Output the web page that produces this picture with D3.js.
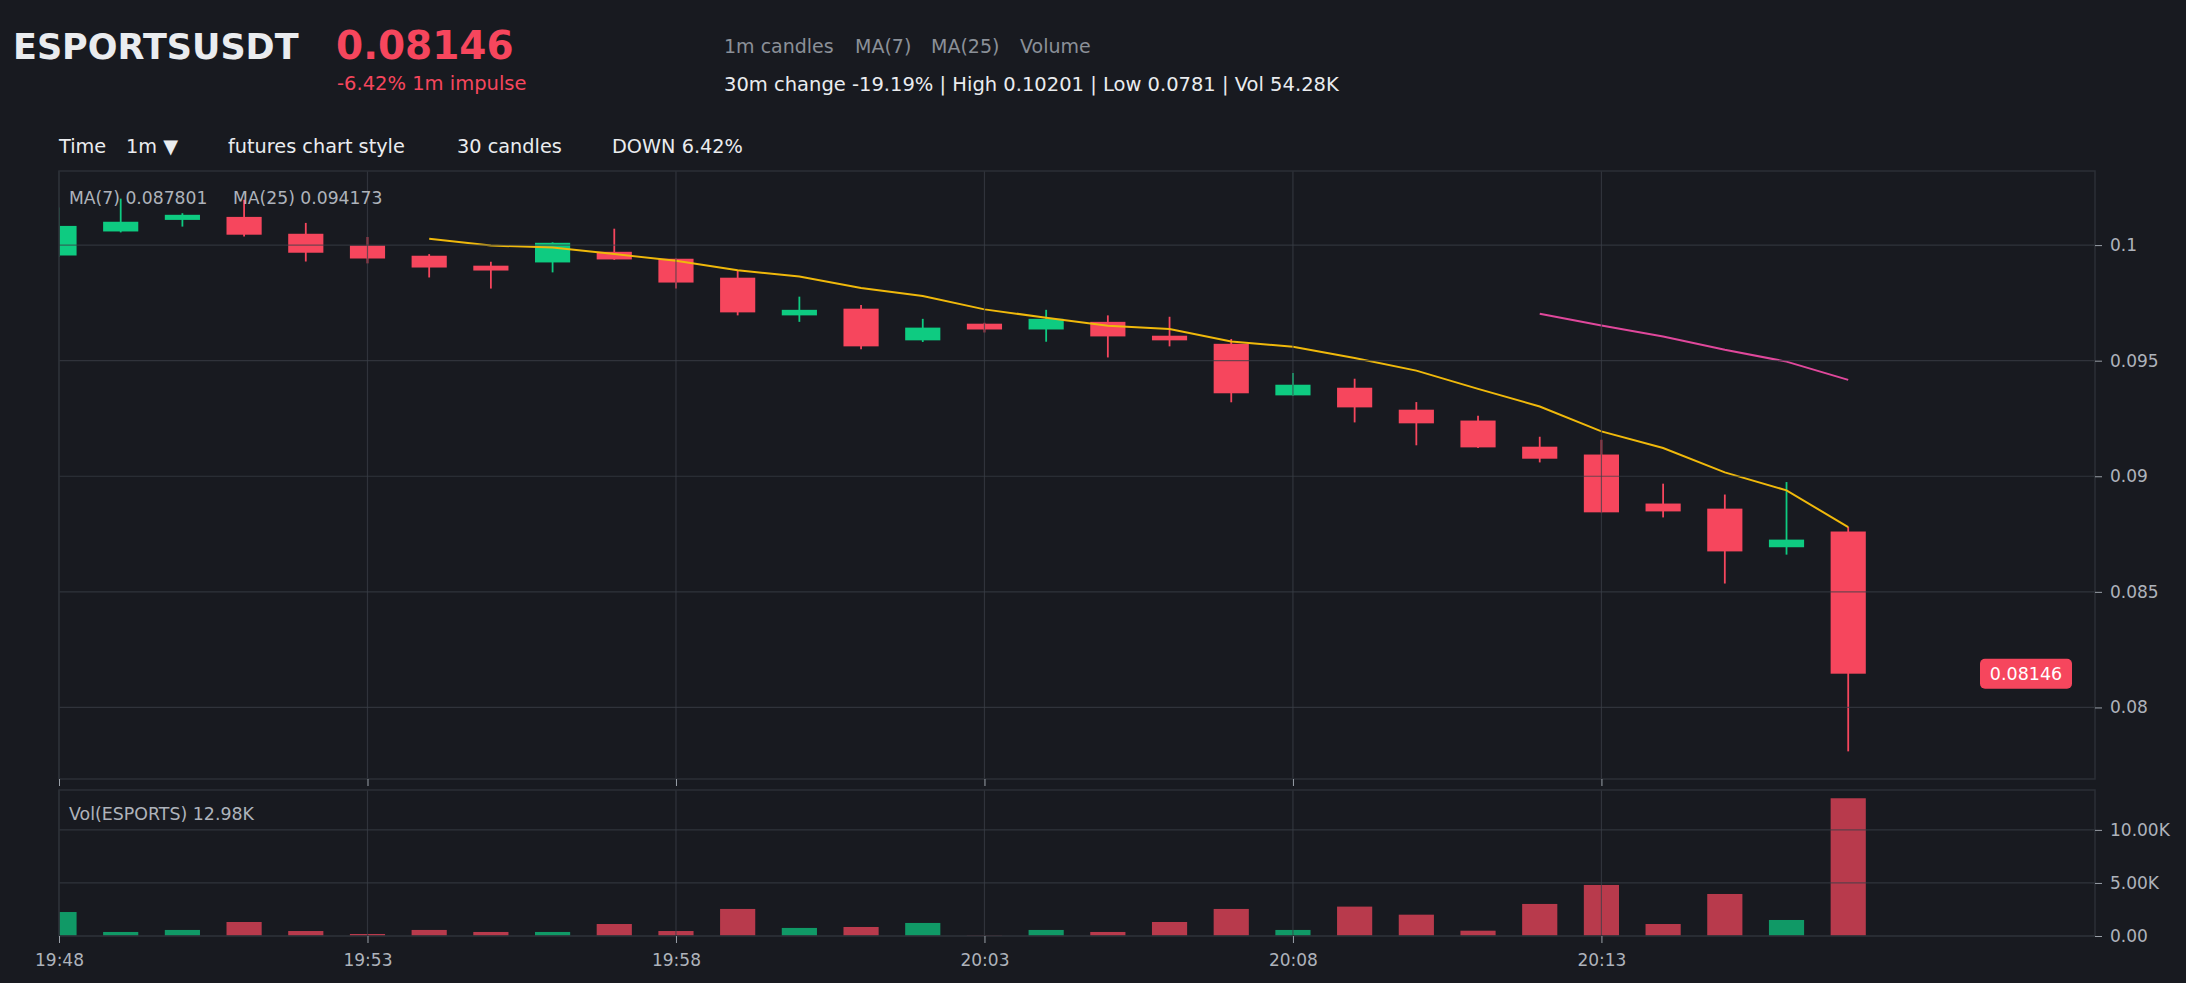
<!DOCTYPE html>
<html>
<head>
<meta charset="utf-8">
<script src="https://cdn.jsdelivr.net/npm/d3@7/dist/d3.min.js"></script>
<style>
  html, body { margin: 0; padding: 0; background: #181a20; }
  svg { display: block; font-family: "DejaVu Sans", sans-serif; }
</style>
</head>
<body>
<svg id="chart" width="2186" height="983"></svg>
<script>
// candle data, 1m
const times = ["19:48","19:49","19:50","19:51","19:52","19:53","19:54","19:55","19:56","19:57",
  "19:58","19:59","20:00","20:01","20:02","20:03","20:04","20:05","20:06","20:07",
  "20:08","20:09","20:10","20:11","20:12","20:13","20:14","20:15","20:16","20:17"];
const opens  = [0.09955,0.10059,0.10109,0.10122,0.10049,0.09998,0.09954,0.09911,0.09925,0.09971,
  0.09941,0.09859,0.09696,0.09725,0.09588,0.09660,0.09635,0.09668,0.09608,0.09573,
  0.09350,0.09383,0.09288,0.09241,0.09128,0.09094,0.08882,0.08860,0.08693,0.08761];
const highs  = [0.10163,0.10201,0.10138,0.10196,0.10096,0.10035,0.09961,0.09928,0.10012,0.10071,
  0.09942,0.09889,0.09777,0.09741,0.09681,0.09664,0.09720,0.09696,0.09690,0.09594,
  0.09447,0.09422,0.09321,0.09262,0.09171,0.09158,0.08968,0.08921,0.08975,0.08781];
const lows   = [0.09948,0.10055,0.10080,0.10037,0.09929,0.09921,0.09860,0.09812,0.09882,0.09936,
  0.09812,0.09696,0.09668,0.09549,0.09581,0.09622,0.09582,0.09514,0.09562,0.09320,
  0.09348,0.09233,0.09134,0.09122,0.09060,0.08844,0.08822,0.08536,0.08661,0.07810];
const closes = [0.10083,0.10101,0.10131,0.10045,0.09967,0.09942,0.09903,0.09890,0.10010,0.09938,
  0.09838,0.09709,0.09720,0.09562,0.09643,0.09635,0.09681,0.09605,0.09588,0.09359,
  0.09396,0.09298,0.09229,0.09125,0.09076,0.08844,0.08848,0.08675,0.08726,0.08146];
const volumes = [2260,380,570,1320,470,190,570,380,380,1130,
  470,2550,760,850,1230,40,570,380,1320,2550,
  570,2770,2010,500,3020,4810,1130,3960,1510,12980];
// moving averages as drawn (null where the line does not exist yet)
const ma7 = [null,null,null,null,null,null,0.10027,0.09998,0.09990,0.09961,
  0.09932,0.09891,0.09864,0.09814,0.09780,0.09722,0.09686,0.09651,0.09637,0.09583,
  0.09560,0.09512,0.09457,0.09378,0.09302,0.09194,0.09122,0.09017,0.08939,0.08780];
const ma25 = [null,null,null,null,null,null,null,null,null,null,
  null,null,null,null,null,null,null,null,null,null,
  null,null,null,null,0.09703,0.09652,0.09605,0.09547,0.09496,0.09417];

const priceTicks = [0.08, 0.085, 0.09, 0.095, 0.1];
const volTicks = [0, 5000, 10000];
const timeTicks = ["19:48","19:53","19:58","20:03","20:08","20:13"];

const UP = "#0ecb81", DOWN = "#f6465d";
const BG = "#181a20", LINE = "#2b2f36", AXIS_TXT = "#aeb3bb";

const svg = d3.select("#chart");
const parse = d3.timeParse("%H:%M");

const candles = times.map((t, i) => ({
  t: parse(t), o: opens[i], h: highs[i], l: lows[i], c: closes[i], v: volumes[i],
  up: closes[i] >= opens[i]
}));

// panels
const left = 59, right = 2095;
const main = { top: 171, bottom: 779 };
const vol = { top: 790, bottom: 936 };

const x = d3.scaleTime()
  .domain([candles[0].t, d3.timeMinute.offset(candles[0].t, 33)])
  .range([left, right]);
const step = x(d3.timeMinute.offset(candles[0].t, 1)) - x(candles[0].t);
const bodyW = step * 0.57;

const lo = d3.min(lows), hi = d3.max(highs), pad = (hi - lo) * 0.05;
const y = d3.scaleLinear().domain([lo - pad, hi + pad]).range([main.bottom, main.top]);
const yv = d3.scaleLinear().domain([0, d3.max(volumes) * 1.06]).range([vol.bottom, vol.top]);

svg.append("rect").attr("width", 2186).attr("height", 983).attr("fill", BG);

const defs = svg.append("defs");
defs.append("clipPath").attr("id", "clip-main").append("rect")
  .attr("x", left).attr("y", main.top).attr("width", right - left).attr("height", main.bottom - main.top);
defs.append("clipPath").attr("id", "clip-vol").append("rect")
  .attr("x", left).attr("y", vol.top).attr("width", right - left).attr("height", vol.bottom - vol.top);

// ---- header ----
const header = svg.append("g");
header.append("text").attr("x", 13).attr("y", 59)
  .attr("font-size", 35).attr("font-weight", "bold").attr("fill", "#eaecef").text("ESPORTSUSDT");
header.append("text").attr("x", 336).attr("y", 59)
  .attr("font-size", 39).attr("font-weight", "bold").attr("fill", DOWN).text("0.08146");
header.append("text").attr("x", 337).attr("y", 90)
  .attr("font-size", 19.5).attr("fill", DOWN).text("-6.42% 1m impulse");

[["1m candles", 724], ["MA(7)", 855], ["MA(25)", 931], ["Volume", 1020]].forEach(([s, px]) => {
  header.append("text").attr("x", px).attr("y", 53)
    .attr("font-size", 19).attr("fill", "#8b9098").text(s);
});
header.append("text").attr("x", 724).attr("y", 91)
  .attr("font-size", 19.5).attr("fill", "#eaecef")
  .text("30m change -19.19% | High 0.10201 | Low 0.0781 | Vol 54.28K");

[["Time", 59], ["1m \u25BC", 126], ["futures chart style", 228], ["30 candles", 457], ["DOWN 6.42%", 612]].forEach(([s, px]) => {
  header.append("text").attr("x", px).attr("y", 153)
    .attr("font-size", 19.3).attr("fill", "#eaecef").text(s);
});

// ---- main panel: candles ----
const gMain = svg.append("g").attr("clip-path", "url(#clip-main)");

gMain.selectAll(".wick").data(candles).join("line")
  .attr("x1", d => x(d.t)).attr("x2", d => x(d.t))
  .attr("y1", d => y(d.h)).attr("y2", d => y(d.l))
  .attr("stroke", d => d.up ? UP : DOWN).attr("stroke-width", 1.8);

gMain.selectAll(".body").data(candles).join("rect")
  .attr("x", d => x(d.t) - bodyW / 2)
  .attr("y", d => y(Math.max(d.o, d.c)))
  .attr("width", bodyW)
  .attr("height", d => Math.max(1.5, Math.abs(y(d.o) - y(d.c))))
  .attr("fill", d => d.up ? UP : DOWN);

// moving averages
const maLine = vals => d3.line()
  .defined((d, i) => vals[i] != null)
  .x(d => x(d.t))
  .y((d, i) => y(vals[i]));

gMain.append("path").datum(candles)
  .attr("d", maLine(ma7)).attr("fill", "none")
  .attr("stroke", "#f0b90b").attr("stroke-width", 2);
gMain.append("path").datum(candles)
  .attr("d", maLine(ma25)).attr("fill", "none")
  .attr("stroke", "#e0489c").attr("stroke-width", 2);

// ---- volume panel ----
const gVol = svg.append("g").attr("clip-path", "url(#clip-vol)");
gVol.selectAll(".vbar").data(candles).join("rect")
  .attr("x", d => x(d.t) - bodyW / 2)
  .attr("y", d => yv(d.v))
  .attr("width", bodyW)
  .attr("height", d => yv(0) - yv(d.v))
  .attr("fill", d => d.up ? UP : DOWN)
  .attr("fill-opacity", 0.72);

// ---- grid (drawn on top, faint) ----
const tickDates = timeTicks.map(parse);
const grid = svg.append("g").attr("stroke", "#3a3e47").attr("stroke-opacity", 0.7).attr("stroke-width", 1.2);
grid.selectAll(".gx1").data(tickDates).join("line")
  .attr("x1", d => x(d)).attr("x2", d => x(d)).attr("y1", main.top).attr("y2", main.bottom);
grid.selectAll(".gx2").data(tickDates).join("line")
  .attr("x1", d => x(d)).attr("x2", d => x(d)).attr("y1", vol.top).attr("y2", vol.bottom);
grid.selectAll(".gy1").data(priceTicks).join("line")
  .attr("x1", left).attr("x2", right).attr("y1", d => y(d)).attr("y2", d => y(d));
grid.selectAll(".gy2").data(volTicks).join("line")
  .attr("x1", left).attr("x2", right).attr("y1", d => yv(d)).attr("y2", d => yv(d));

// panel frames
[main, vol].forEach(p => {
  svg.append("rect")
    .attr("x", left).attr("y", p.top)
    .attr("width", right - left).attr("height", p.bottom - p.top)
    .attr("fill", "none").attr("stroke", LINE).attr("stroke-width", 1.5);
});

// ---- axes ----
function styleAxis(g) {
  g.select(".domain").remove();
  g.selectAll(".tick line").attr("stroke", "#9aa0a8");
  g.selectAll(".tick text").attr("fill", AXIS_TXT).attr("font-size", 17)
    .attr("font-family", "DejaVu Sans, sans-serif");
}

svg.append("g").attr("transform", `translate(${right},0)`)
  .call(d3.axisRight(y).tickValues(priceTicks).tickSize(7).tickPadding(8)
    .tickFormat(d => String(+d.toFixed(4))))
  .call(styleAxis);

svg.append("g").attr("transform", `translate(${right},0)`)
  .call(d3.axisRight(yv).tickValues(volTicks).tickSize(7).tickPadding(8)
    .tickFormat(d => d === 0 ? "0.00" : (d / 1000).toFixed(2) + "K"))
  .call(styleAxis);

svg.append("g").attr("transform", `translate(0,${main.bottom})`)
  .call(d3.axisBottom(x).tickValues(tickDates).tickSize(7).tickFormat(""))
  .call(styleAxis);

svg.append("g").attr("transform", `translate(0,${vol.bottom})`)
  .call(d3.axisBottom(x).tickValues(tickDates).tickSize(7).tickPadding(11)
    .tickFormat(d3.timeFormat("%H:%M")))
  .call(styleAxis);

// ---- panel labels ----
svg.append("text").attr("x", 69).attr("y", 204).attr("font-size", 17.2).attr("fill", AXIS_TXT)
  .text("MA(7) 0.087801");
svg.append("text").attr("x", 233).attr("y", 204).attr("font-size", 17.2).attr("fill", AXIS_TXT)
  .text("MA(25) 0.094173");
svg.append("text").attr("x", 69).attr("y", 820).attr("font-size", 17.4).attr("fill", AXIS_TXT)
  .text("Vol(ESPORTS) " + (volumes[volumes.length - 1] / 1000).toFixed(2) + "K");

// last price tag
const last = candles[candles.length - 1];
const tag = svg.append("g").attr("transform", `translate(1980,${y(last.c)})`);
tag.append("rect").attr("x", 0).attr("y", -15).attr("width", 92).attr("height", 30)
  .attr("rx", 5).attr("fill", DOWN);
tag.append("text").attr("x", 46).attr("y", 0).attr("dy", "0.35em")
  .attr("text-anchor", "middle").attr("font-size", 17.5).attr("fill", "#ffffff")
  .text(last.c.toFixed(5));
</script>
</body>
</html>
